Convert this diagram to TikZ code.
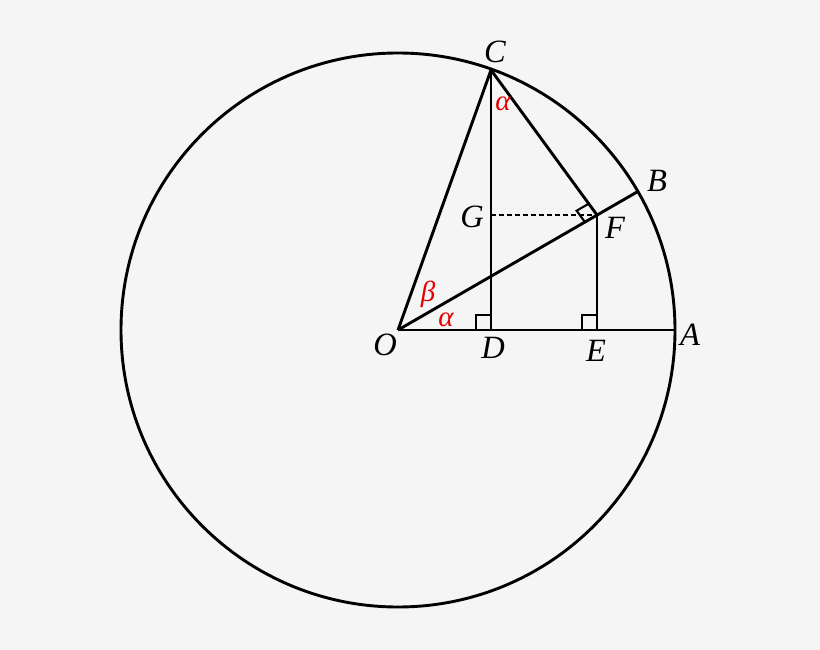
\documentclass[tikz,border=0pt]{standalone}
\usepackage{fontspec}
\setmainfont{Liberation Serif}
\usetikzlibrary{calc}
\definecolor{bg}{RGB}{245,245,245}
\definecolor{angred}{RGB}{230,0,0}
\begin{document}
\begin{tikzpicture}[x=1pt,y=-1pt,line width=2.9pt,
  lbl/.style={font=\fontsize{32.5}{33}\selectfont\itshape,inner sep=0pt},
  ang/.style={text=angred,font=\fontsize{29}{29}\selectfont\itshape,inner sep=0pt},
  rmark/.style={line width=2.1pt},
  dashline/.style={line width=1.9pt,dash pattern=on 5pt off 3pt}]
\fill[bg] (0,0) rectangle (820,650);
\useasboundingbox (0,0) rectangle (820,650);
\coordinate (O) at (398,330);
\coordinate (A) at (675,330);
\coordinate (B) at (637,192);
\coordinate (C) at (491,70);
\coordinate (D) at (491,330);
\coordinate (E) at (597,330);
\coordinate (F) at (597,215);
\coordinate (G) at (491,215);
\draw (O) circle (277pt);
\draw (O) -- (A);
\draw (O) -- (B);
\draw (O) -- (C);
\draw (C) -- (D);
\draw (C) -- (F);
\draw (F) -- (E);
\draw[dashline] (G) -- (F);
% right angle marks
\draw[rmark] ($(D)+(-15,0)$) -- ++(0,-15) -- ++(15,0);
\draw[rmark] ($(E)+(-15,0)$) -- ++(0,-15) -- ++(15,0);
\draw[rmark] ($(F)!14pt!(C)$) -- ($($(F)!14pt!(C)$)+($(F)!14pt!(O)$)-(F)$) -- ($(F)!14pt!(O)$);
% labels
\node[lbl] (lC) at (495,52) {C};
\node[lbl] (lB) at (657,181) {B};
\node[lbl] (lG) at (472,217) {G};
\node[lbl] (lF) at (615,228) {F};
\node[lbl] (lO) at (385,345) {O};
\node[lbl] (lD) at (493,348) {D};
\node[lbl] (lE) at (596,351) {E};
\node[lbl] (lA) at (690,335) {A};
\node[ang] (aC) at (503,104) {α};
\node[ang] (bO) at (428,294) {β};
\node[ang] (aO) at (446,320) {α};
\end{tikzpicture}
\end{document}
